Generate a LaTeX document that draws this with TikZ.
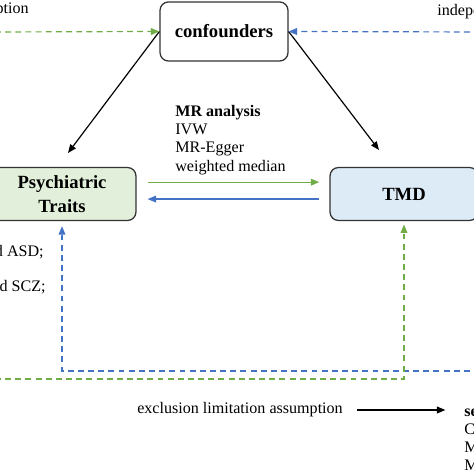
\documentclass[tikz,border=0pt]{standalone}
\usepackage{fontspec}
\setmainfont{Liberation Serif}
\usetikzlibrary{arrows.meta}
\definecolor{mrgreen}{RGB}{112,173,71}
\definecolor{mrblue}{RGB}{68,114,196}
\definecolor{traitfill}{RGB}{226,239,218}
\definecolor{tmdfill}{RGB}{221,235,247}
\begin{document}
\begin{tikzpicture}[
    x=0.5907pt, y=-0.5907pt,
    every node/.style={font=\fontsize{9.5}{10.8}\selectfont},
    box/.style={draw=black!80, line width=0.75pt, rounded corners=5pt, align=center,
                font=\fontsize{11}{14}\selectfont\bfseries},
    edge/.style={-{Triangle[length=5pt,width=4pt]}, line width=0.7pt},
    gdash/.style={edge, mrgreen, dash pattern=on 3.5pt off 2.5pt},
    bdash/.style={edge, mrblue, dash pattern=on 3.5pt off 2.5pt},
    txt/.style={align=left, inner sep=0pt}
]
    \useasboundingbox (0,0) rectangle (474,474);
    \clip (0,0) rectangle (474,474);
    % boxes
    \node[box, fill=white, minimum width=75.6pt, minimum height=34.9pt] (conf) at (224,31.5) {confounders};
    \node[box, fill=traitfill, minimum width=87.4pt, minimum height=31.3pt] (psych) at (62,194) {Psychiatric\\Traits};
    \node[box, fill=tmdfill, minimum width=87.4pt, minimum height=31.3pt] (tmd) at (404,194) {TMD};
    % texts
    \node[txt, anchor=west] (mr) at (175,140)
        {\textbf{MR analysis}\\IVW\\MR-Egger\\weighted median};
    \node[txt, anchor=east] (asm) at (29,10) {assumption};
    \node[txt, anchor=west] (ind) at (437,12) {independence};
    \node[txt, anchor=east] (asd) at (44,252) {and ASD;};
    \node[txt, anchor=east] (scz) at (46,287) {and SCZ;};
    \node[txt, anchor=center] (excl) at (240,410) {exclusion limitation assumption};
    \node[txt, anchor=west] (sens) at (464,438)
        {\textbf{sensitivity analysis}\\Cochran's Q\\MR-Egger intercept\\MR-PRESSO};
    % free ends
    \coordinate (psychin) at (68,153);
    \coordinate (tmdin) at (379,150);
    \coordinate (gleft) at (-5,32);
    \coordinate (bright) at (480,32);
    \coordinate (bstart) at (480,371);
    \coordinate (gstart) at (-5,379);
    % edges
    \draw[edge] (conf.west) -- (psychin);
    \draw[edge] (conf.east) -- (tmdin);
    \draw[gdash] (gleft) -- (conf.west);
    \draw[bdash] (bright) -- (conf.east);
    \draw[edge, mrgreen, shorten <=6.5pt, shorten >=6pt]
        ([yshift=7pt]psych.east) -- ([yshift=7pt]tmd.west);
    \draw[edge, mrblue, shorten <=6pt, shorten >=6.5pt]
        ([yshift=-3pt]tmd.west) -- ([yshift=-3pt]psych.east);
    \draw[bdash, shorten >=3pt] (bstart) -| (psych.south);
    \draw[gdash, shorten >=2pt] (gstart) -| (tmd.south);
    \draw[edge, shorten <=8.3pt, shorten >=11pt] (excl.east) -- (excl.east -| sens.west);
\end{tikzpicture}
\end{document}
